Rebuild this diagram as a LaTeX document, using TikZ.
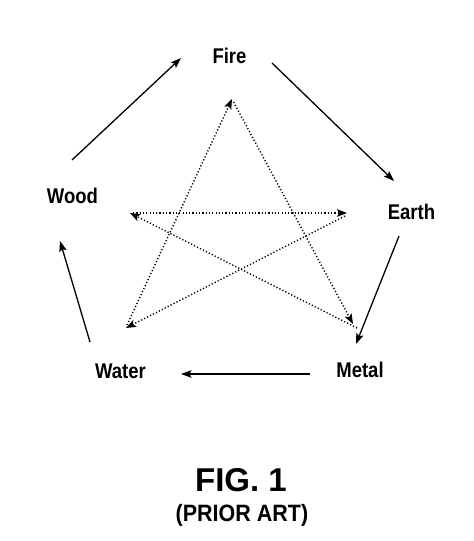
\documentclass[tikz,border=0pt]{standalone}
\usepackage{fontspec}
\setmainfont{Liberation Sans}
\usetikzlibrary{arrows.meta}
\newcommand{\lbltext}[1]{\scalebox{1}[1.15]{#1}}
\tikzset{
  lbl/.style={inner sep=0pt, anchor=base, font=\bfseries\fontsize{18.5}{20}\selectfont},
  solidarrow/.style={line width=1.3pt, -{Stealth[length=10.5pt,width=7.5pt,inset=2pt]}},
  dotarrow/.style={line width=1.4pt, dash pattern=on 1.2pt off 2.1pt, -{Stealth[length=10pt,width=7.5pt,inset=2pt,sep=0pt]}},
}
\begin{document}
\begin{tikzpicture}[x=1pt,y=-1pt]
\useasboundingbox (0,0) rectangle (474,541);
\fill[white] (0,0) rectangle (474,541);
% labels
\node[lbl] (fire) at (229.5,63) {\lbltext{Fire}};
\node[lbl] (wood) at (72.5,203) {\lbltext{Wood}};
\node[lbl] (earth) at (411.5,219) {\lbltext{Earth}};
\node[lbl] (water) at (120.5,378) {\lbltext{Water}};
\node[lbl] (metal) at (360,377) {\lbltext{Metal}};
\node[inner sep=0pt, anchor=base, font=\bfseries\fontsize{33}{36}\selectfont] (fig) at (241,491) {FIG. 1};
\node[inner sep=0pt, anchor=base, font=\bfseries\fontsize{21.5}{24}\selectfont] (prior) at (242,521) {\scalebox{1}[1.1]{(PRIOR ART)}};
% generating cycle endpoints
\coordinate (woodA) at (72,160);
\coordinate (fireA) at (181,58);
\coordinate (fireB) at (272,63);
\coordinate (earthA) at (394,181);
\coordinate (earthB) at (399,236);
\coordinate (metalA) at (356,344);
\coordinate (metalB) at (310,374);
\coordinate (waterA) at (181,374);
\coordinate (waterB) at (90,342);
\coordinate (woodB) at (60,241);
\draw[solidarrow] (woodA) -- (fireA);
\draw[solidarrow] (fireB) -- (earthA);
\draw[solidarrow] (earthB) -- (metalA);
\draw[solidarrow] (metalB) -- (waterA);
\draw[solidarrow] (waterB) -- (woodB);
% controlling cycle (star) vertices
\coordinate (sFire) at (232,99);
\coordinate (sWood) at (130,213);
\coordinate (sEarth) at (347,213);
\coordinate (sWater) at (126,328);
\coordinate (sMetal) at (353,324);
\draw[dotarrow] (sFire) ++(1.5,3) -- (sMetal);
\draw[dotarrow] ([shift={(4,4)}]sMetal) -- (sWood);
\draw[dotarrow] ([shift={(3,0)}]sWood) -- (sEarth);
\draw[dotarrow] ([shift={(-2,3)}]sEarth) -- (sWater);
\draw[dotarrow] ([shift={(1,-3)}]sWater) -- (sFire);
\end{tikzpicture}
\end{document}
